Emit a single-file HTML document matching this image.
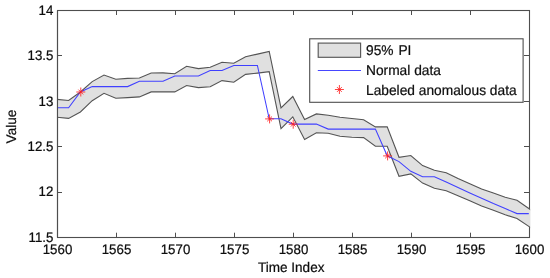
<!DOCTYPE html>
<html><head><meta charset="utf-8"><title>Plot</title>
<style>
html,body{margin:0;padding:0;background:#fff;}
svg{display:block;}
text{font-family:"Liberation Sans",Arial,sans-serif;fill:#0d0d0d;stroke:#0d0d0d;stroke-width:0.22px;text-rendering:geometricPrecision;}
</style></head><body>
<svg width="550" height="278" viewBox="0 0 550 278">
<rect x="0" y="0" width="550" height="278" fill="#ffffff"/>
<defs><clipPath id="ax"><rect x="57.5" y="10.5" width="472.6" height="227.0"/></clipPath></defs>

<rect x="57.5" y="10.5" width="472.0" height="227.0" fill="none" stroke="#4e4e4e" stroke-width="1.1"/>
<line x1="57.50" y1="237.5" x2="57.50" y2="232.7" stroke="#4e4e4e" stroke-width="1"/>
<line x1="57.50" y1="10.5" x2="57.50" y2="15.0" stroke="#4e4e4e" stroke-width="1"/>
<text transform="translate(57.50,253.60) scale(1,1.03)" text-anchor="middle" font-size="13.3">1560</text>
<line x1="116.50" y1="237.5" x2="116.50" y2="232.7" stroke="#4e4e4e" stroke-width="1"/>
<line x1="116.50" y1="10.5" x2="116.50" y2="15.0" stroke="#4e4e4e" stroke-width="1"/>
<text transform="translate(116.50,253.60) scale(1,1.03)" text-anchor="middle" font-size="13.3">1565</text>
<line x1="175.50" y1="237.5" x2="175.50" y2="232.7" stroke="#4e4e4e" stroke-width="1"/>
<line x1="175.50" y1="10.5" x2="175.50" y2="15.0" stroke="#4e4e4e" stroke-width="1"/>
<text transform="translate(175.50,253.60) scale(1,1.03)" text-anchor="middle" font-size="13.3">1570</text>
<line x1="234.50" y1="237.5" x2="234.50" y2="232.7" stroke="#4e4e4e" stroke-width="1"/>
<line x1="234.50" y1="10.5" x2="234.50" y2="15.0" stroke="#4e4e4e" stroke-width="1"/>
<text transform="translate(234.50,253.60) scale(1,1.03)" text-anchor="middle" font-size="13.3">1575</text>
<line x1="293.50" y1="237.5" x2="293.50" y2="232.7" stroke="#4e4e4e" stroke-width="1"/>
<line x1="293.50" y1="10.5" x2="293.50" y2="15.0" stroke="#4e4e4e" stroke-width="1"/>
<text transform="translate(293.50,253.60) scale(1,1.03)" text-anchor="middle" font-size="13.3">1580</text>
<line x1="352.50" y1="237.5" x2="352.50" y2="232.7" stroke="#4e4e4e" stroke-width="1"/>
<line x1="352.50" y1="10.5" x2="352.50" y2="15.0" stroke="#4e4e4e" stroke-width="1"/>
<text transform="translate(352.50,253.60) scale(1,1.03)" text-anchor="middle" font-size="13.3">1585</text>
<line x1="411.50" y1="237.5" x2="411.50" y2="232.7" stroke="#4e4e4e" stroke-width="1"/>
<line x1="411.50" y1="10.5" x2="411.50" y2="15.0" stroke="#4e4e4e" stroke-width="1"/>
<text transform="translate(411.50,253.60) scale(1,1.03)" text-anchor="middle" font-size="13.3">1590</text>
<line x1="470.50" y1="237.5" x2="470.50" y2="232.7" stroke="#4e4e4e" stroke-width="1"/>
<line x1="470.50" y1="10.5" x2="470.50" y2="15.0" stroke="#4e4e4e" stroke-width="1"/>
<text transform="translate(470.50,253.60) scale(1,1.03)" text-anchor="middle" font-size="13.3">1595</text>
<line x1="529.50" y1="237.5" x2="529.50" y2="232.7" stroke="#4e4e4e" stroke-width="1"/>
<line x1="529.50" y1="10.5" x2="529.50" y2="15.0" stroke="#4e4e4e" stroke-width="1"/>
<text transform="translate(529.50,253.60) scale(1,1.03)" text-anchor="middle" font-size="13.3">1600</text>
<line x1="57.5" y1="237.50" x2="62.0" y2="237.50" stroke="#4e4e4e" stroke-width="1"/>
<line x1="529.5" y1="237.50" x2="524.0" y2="237.50" stroke="#4e4e4e" stroke-width="1"/>
<text transform="translate(53.40,241.70) scale(1,1.03)" text-anchor="end" font-size="13.3">11.5</text>
<line x1="57.5" y1="192.50" x2="62.0" y2="192.50" stroke="#4e4e4e" stroke-width="1"/>
<line x1="529.5" y1="192.50" x2="524.0" y2="192.50" stroke="#4e4e4e" stroke-width="1"/>
<text transform="translate(53.40,196.30) scale(1,1.03)" text-anchor="end" font-size="13.3">12</text>
<line x1="57.5" y1="146.50" x2="62.0" y2="146.50" stroke="#4e4e4e" stroke-width="1"/>
<line x1="529.5" y1="146.50" x2="524.0" y2="146.50" stroke="#4e4e4e" stroke-width="1"/>
<text transform="translate(53.40,150.90) scale(1,1.03)" text-anchor="end" font-size="13.3">12.5</text>
<line x1="57.5" y1="101.50" x2="62.0" y2="101.50" stroke="#4e4e4e" stroke-width="1"/>
<line x1="529.5" y1="101.50" x2="524.0" y2="101.50" stroke="#4e4e4e" stroke-width="1"/>
<text transform="translate(53.40,105.50) scale(1,1.03)" text-anchor="end" font-size="13.3">13</text>
<line x1="57.5" y1="55.50" x2="62.0" y2="55.50" stroke="#4e4e4e" stroke-width="1"/>
<line x1="529.5" y1="55.50" x2="524.0" y2="55.50" stroke="#4e4e4e" stroke-width="1"/>
<text transform="translate(53.40,60.10) scale(1,1.03)" text-anchor="end" font-size="13.3">13.5</text>
<line x1="57.5" y1="10.50" x2="62.0" y2="10.50" stroke="#4e4e4e" stroke-width="1"/>
<line x1="529.5" y1="10.50" x2="524.0" y2="10.50" stroke="#4e4e4e" stroke-width="1"/>
<text transform="translate(53.40,14.70) scale(1,1.03)" text-anchor="end" font-size="13.3">14</text>
<g clip-path="url(#ax)"><polygon points="45.0,98.9 56.8,99.4 68.6,100.5 80.4,92.0 92.2,81.6 104.0,75.1 115.8,79.3 127.6,78.4 139.4,78.0 151.2,73.0 163.0,72.9 174.8,73.8 186.6,66.3 198.4,68.6 210.2,67.2 222.0,62.2 233.8,63.3 245.6,56.8 257.4,54.1 269.2,51.4 281.0,107.8 292.8,96.5 304.6,119.5 316.4,113.9 328.2,115.3 340.0,117.3 351.8,118.5 363.6,119.7 375.4,126.9 387.2,126.9 399.0,157.3 410.8,155.5 422.6,165.6 434.4,170.3 446.2,172.7 458.0,178.4 469.8,183.7 481.6,189.0 493.4,193.1 505.2,197.3 517.0,200.3 528.8,208.5 540.6,216.5 540.6,234.4 528.8,226.4 517.0,218.6 505.2,214.8 493.4,210.3 481.6,206.1 469.8,200.8 458.0,195.8 446.2,190.8 434.4,188.3 422.6,183.1 410.8,173.9 399.0,176.3 387.2,146.3 375.4,146.3 363.6,137.6 351.8,137.2 340.0,136.2 328.2,133.3 316.4,132.8 304.6,139.5 292.8,116.8 281.0,128.7 269.2,71.6 257.4,73.1 245.6,74.4 233.8,82.3 222.0,80.6 210.2,86.7 198.4,87.6 186.6,85.5 174.8,91.9 163.0,91.9 151.2,91.9 139.4,96.9 127.6,97.6 115.8,98.3 104.0,93.3 92.2,100.7 80.4,112.0 68.6,118.4 56.8,117.3 45.0,116.8" fill="#e0e0e0" stroke="#545454" stroke-width="1.1" stroke-linejoin="miter"/>
<polyline points="56.8,107.8 68.6,107.8 80.4,91.9 92.2,86.6 104.0,86.6 115.8,86.6 127.6,86.6 139.4,81.3 151.2,81.3 163.0,81.3 174.8,76.0 186.6,76.0 198.4,76.0 210.2,70.5 222.0,70.5 233.8,65.4 245.6,65.4 257.4,65.4 269.2,118.8 281.0,118.8 292.8,124.1 304.6,124.1 316.4,124.1 328.2,129.1 340.0,129.1 351.8,129.1 363.6,129.1 375.4,129.1 387.2,155.8 399.0,161.6 410.8,171.3 422.6,176.7 434.4,176.7 446.2,182.1 458.0,187.5 469.8,193.0 481.6,198.3 493.4,203.6 505.2,208.5 517.0,213.6 528.8,213.6" fill="none" stroke="#4040ff" stroke-width="1.05"/></g>
<line x1="57.5" y1="10.5" x2="57.5" y2="237.5" stroke="#4e4e4e" stroke-width="1.1"/>
<g stroke="#ff2020" stroke-width="0.85" fill="none"><line x1="76.30" y1="92.00" x2="85.30" y2="92.00"/><line x1="80.80" y1="87.50" x2="80.80" y2="96.50"/><line x1="78.40" y1="89.60" x2="83.20" y2="94.40"/><line x1="78.40" y1="94.40" x2="83.20" y2="89.60"/></g>
<g stroke="#ff2020" stroke-width="0.85" fill="none"><line x1="265.10" y1="118.90" x2="274.10" y2="118.90"/><line x1="269.60" y1="114.40" x2="269.60" y2="123.40"/><line x1="267.20" y1="116.50" x2="272.00" y2="121.30"/><line x1="267.20" y1="121.30" x2="272.00" y2="116.50"/></g>
<g stroke="#ff2020" stroke-width="0.85" fill="none"><line x1="288.70" y1="124.20" x2="297.70" y2="124.20"/><line x1="293.20" y1="119.70" x2="293.20" y2="128.70"/><line x1="290.80" y1="121.80" x2="295.60" y2="126.60"/><line x1="290.80" y1="126.60" x2="295.60" y2="121.80"/></g>
<g stroke="#ff2020" stroke-width="0.85" fill="none"><line x1="383.10" y1="155.90" x2="392.10" y2="155.90"/><line x1="387.60" y1="151.40" x2="387.60" y2="160.40"/><line x1="385.20" y1="153.50" x2="390.00" y2="158.30"/><line x1="385.20" y1="158.30" x2="390.00" y2="153.50"/></g>
<rect x="309.7" y="38.8" width="213.4" height="63.5" fill="#ffffff" stroke="#4e4e4e" stroke-width="1.1"/>
<rect x="318.2" y="43.1" width="42.4" height="14.2" fill="#e0e0e0" stroke="#585858" stroke-width="1.15"/>
<line x1="317.8" y1="70.5" x2="361" y2="70.5" stroke="#4646ff" stroke-width="1"/>
<g stroke="#ff2020" stroke-width="0.85" fill="none"><line x1="334.90" y1="89.50" x2="343.90" y2="89.50"/><line x1="339.40" y1="85.00" x2="339.40" y2="94.00"/><line x1="337.00" y1="87.10" x2="341.80" y2="91.90"/><line x1="337.00" y1="91.90" x2="341.80" y2="87.10"/></g>
<text transform="translate(366.00,55.20) scale(1,1.03)" text-anchor="start" font-size="13.75">95% <tspan dx="1.1">PI</tspan></text>
<text transform="translate(366.00,75.10) scale(1,1.03)" text-anchor="start" font-size="13.75">Normal data</text>
<text transform="translate(366.00,94.60) scale(1,1.03)" text-anchor="start" font-size="13.75">Labeled anomalous data</text>
<text transform="translate(291.20,271.90) scale(1,1.02)" text-anchor="middle" font-size="13.55">Time Index</text>
<text transform="translate(15.70,126.50) rotate(-90) scale(1,1.02)" text-anchor="middle" font-size="13.6">Value</text>
</svg></body></html>
